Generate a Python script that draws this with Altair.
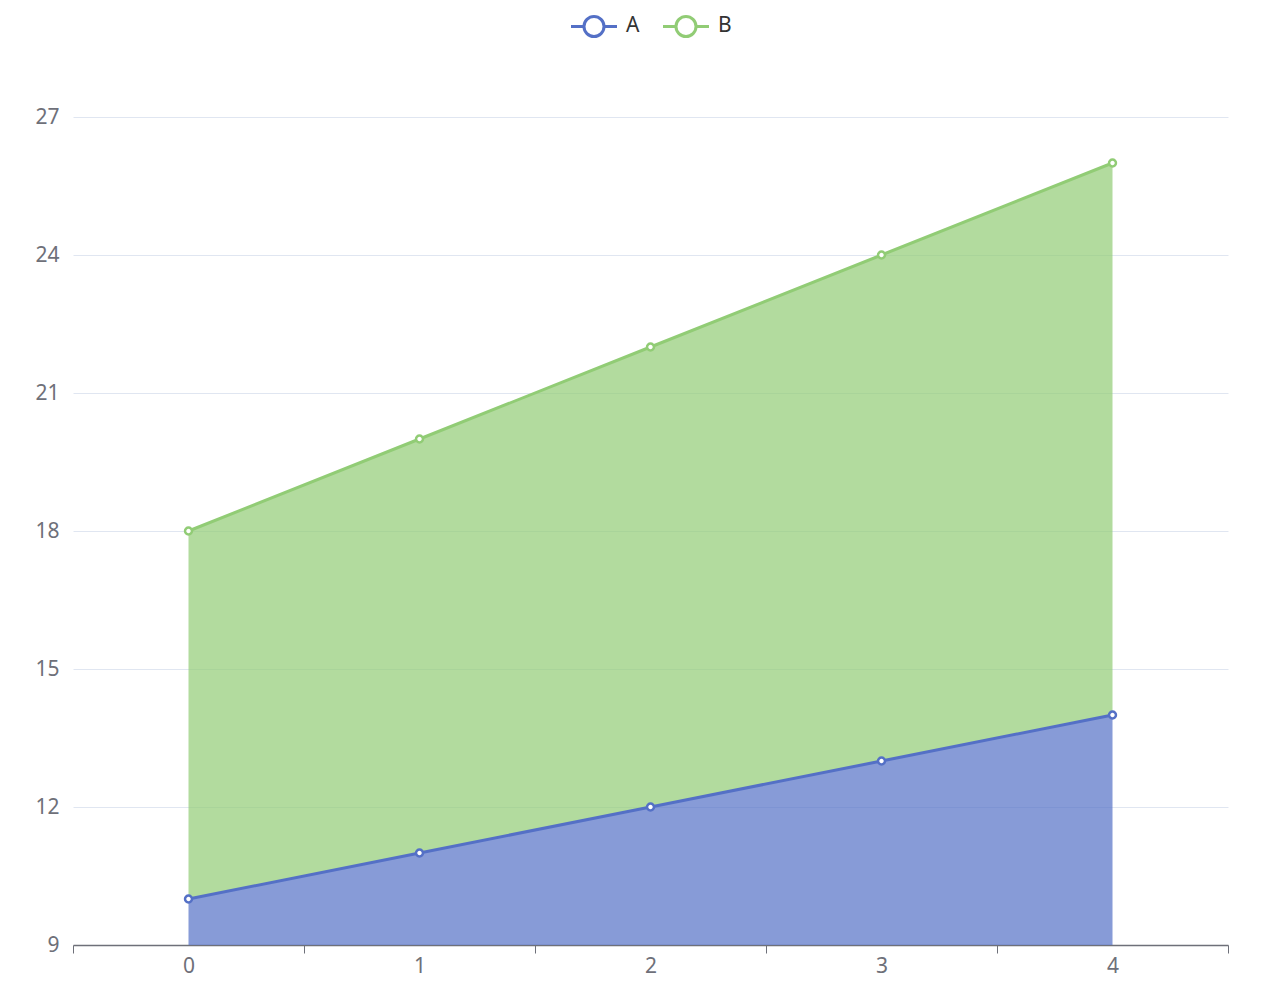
import altair as alt
import pandas as pd

categories = ["0", "1", "2", "3", "4"]
series_a = [10, 11, 12, 13, 14]
series_b = [8, 9, 10, 11, 12]  # stacked on top of A (totals 18..26)
y_ticks = [9, 12, 15, 18, 21, 24, 27]

rows = []
for c, a in zip(categories, series_a):
    rows.append({"x": c, "series": "A", "v": a, "order": 0})
for c, b in zip(categories, series_b):
    rows.append({"x": c, "series": "B", "v": b, "order": 1})
df = pd.DataFrame(rows)

colors = ["#5470c6", "#91cc75"]
FONT = "Noto Sans"
LABEL = "#6e7079"

x_enc = alt.X(
    "x:N",
    sort=categories,
    scale=alt.Scale(paddingInner=0, paddingOuter=0),
    axis=alt.Axis(
        title=None, labelAngle=0, tickBand="extent", grid=False,
        domainColor=LABEL, tickColor=LABEL, tickSize=8, domainWidth=1.5,
        labelColor=LABEL, labelFontSize=21, labelFont=FONT, labelPadding=2,
    ),
)
y_enc = alt.Y(
    "v:Q",
    stack="zero",
    scale=alt.Scale(domain=[9, 27], zero=False, nice=False),
    axis=alt.Axis(
        title=None, values=y_ticks, domain=False, ticks=False,
        gridColor="#e0e6f1", labelColor=LABEL, labelFontSize=21,
        labelFont=FONT, labelPadding=14,
    ),
)
order_enc = alt.Order("order:Q")

area = alt.Chart(df).transform_calculate(fillkey="datum.series").mark_area(
    opacity=0.7, clip=True
).encode(
    x=x_enc, y=y_enc,
    fill=alt.Fill("fillkey:N", scale=alt.Scale(range=colors), legend=None),
    order=order_enc,
)
color_enc = alt.Color(
    "series:N",
    scale=alt.Scale(domain=["A", "B"], range=colors),
    legend=alt.Legend(
        title=None, orient="none", direction="horizontal",
        legendX=508, legendY=-104,
        symbolType="M-2,0L-0.87,0M0.87,0L2,0M0.87,0A0.87,0.87,0,1,1,-0.87,0A0.87,0.87,0,1,1,0.87,0Z",
        symbolSize=529, symbolStrokeWidth=3, symbolFillColor="white",
        symbolOpacity=1, labelFontSize=21, labelFont=FONT, labelColor="#333",
        columnPadding=17, labelOffset=19,
    ),
)
line = alt.Chart(df).mark_line(
    strokeWidth=3, clip=True,
    point=alt.OverlayMarkDef(filled=False, fill="white", size=48, strokeWidth=2.5),
).encode(x=x_enc, y=y_enc, color=color_enc, order=order_enc)

chart = alt.layer(area, line).properties(
    width=1155, height=828,
    autosize=alt.AutoSizeParams(type="none"),
    padding={"left": 65, "top": 109, "right": 40, "bottom": 40},
).configure_view(stroke=None)

chart.save("out.html", embed_options={"renderer": "svg", "actions": False})
